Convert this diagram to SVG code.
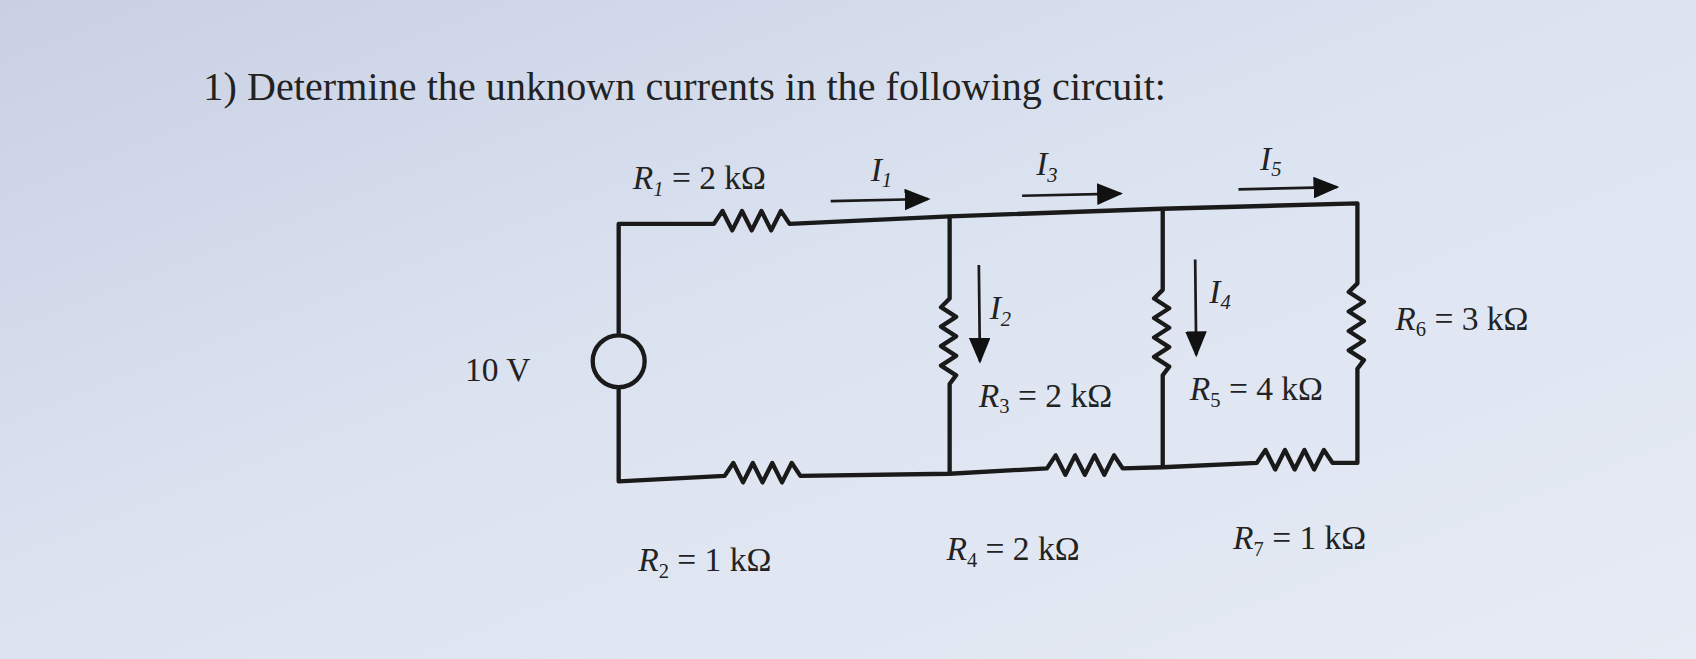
<svg xmlns="http://www.w3.org/2000/svg" width="1696" height="659" viewBox="0 0 1696 659">
<defs>
<linearGradient id="bg" x1="0" y1="0" x2="1" y2="1">
<stop offset="0" stop-color="#c9d0e4"/><stop offset="0.5" stop-color="#dde4f1"/><stop offset="1" stop-color="#e6ebf4"/>
</linearGradient>
<marker id="ah" viewBox="0 0 10 10" refX="9" refY="5" markerWidth="24" markerHeight="20" markerUnits="userSpaceOnUse" orient="auto" preserveAspectRatio="none">
<path d="M0,0 L10,5 L0,10 z" fill="#111"/>
</marker>
<style>
.w{fill:none;stroke:#1a1a1a;stroke-width:4;stroke-linejoin:round}
.a{fill:none;stroke:#1a1a1a;stroke-width:2.5}
.t{font-family:"Liberation Serif",serif;font-size:31px;fill:#222}
.i{font-style:italic}
</style>
</defs>
<rect width="1696" height="659" fill="url(#bg)"/>
<g transform="scale(1.0816)">
<text class="t" x="188" y="92" style="font-size:37px" textLength="890">1) Determine the unknown currents in the following circuit:</text>
<g id="connectors">
<path class="w" d="M572,310 V207 H660 l8,-12 l9,18 l9,-18 l9,18 l9,-18 l9,18 l9,-18 l8,12 L878,200 L1075,193 L1255,188 V262 l-8,8 l14,9 l-14,9 l14,9 l-14,9 l14,9 l-14,9 l14,9 l-6,8 V428 H1232 l-8,-12 l-9,18 l-9,-18 l-9,18 l-9,-18 l-9,18 l-9,-18 l-8,12 L1075,432 L1038,433 l-8,-12 l-9,18 l-9,-18 l-9,18 l-9,-18 l-9,18 l-9,-18 l-8,12 L878,438 L740,440 l-8,-12 l-9,18 l-9,-18 l-9,18 l-9,-18 l-9,18 l-9,-18 l-8,12 L572,445 V358"/>
<path class="w" d="M878,200 V276 l-8,8 l14,9 l-14,9 l14,9 l-14,9 l14,9 l-14,9 l14,9 l-6,8 V438"/>
<path class="w" d="M1075,193 V268 l-8,8 l14,9 l-14,9 l14,9 l-14,9 l14,9 l-14,9 l14,9 l-6,8 V432"/>
<line class="a" x1="768" y1="186" x2="858" y2="184" marker-end="url(#ah)"/>
<line class="a" x1="945" y1="181" x2="1036" y2="179" marker-end="url(#ah)"/>
<line class="a" x1="1145" y1="175" x2="1236" y2="173" marker-end="url(#ah)"/>
<line class="a" x1="905" y1="245" x2="906" y2="334" marker-end="url(#ah)"/>
<line class="a" x1="1105" y1="240" x2="1106" y2="328" marker-end="url(#ah)"/>
</g>
<g id="source"><circle cx="572" cy="334" r="24" fill="none" stroke="#1a1a1a" stroke-width="4"/><text class="t" x="430" y="352">10 V</text></g>
<g id="R1"><text class="t" x="585" y="175"><tspan class="i">R</tspan><tspan class="i" font-size="19" dy="6">1</tspan><tspan dy="-6"> = 2 kΩ</tspan></text></g>
<g id="R2"><text class="t" x="590" y="528"><tspan class="i">R</tspan><tspan font-size="19" dy="6">2</tspan><tspan dy="-6"> = 1 kΩ</tspan></text></g>
<g id="R3"><text class="t" x="905" y="376"><tspan class="i">R</tspan><tspan font-size="19" dy="6">3</tspan><tspan dy="-6"> = 2 kΩ</tspan></text></g>
<g id="R4"><text class="t" x="875" y="518"><tspan class="i">R</tspan><tspan font-size="19" dy="6">4</tspan><tspan dy="-6"> = 2 kΩ</tspan></text></g>
<g id="R5"><text class="t" x="1100" y="370"><tspan class="i">R</tspan><tspan font-size="19" dy="6">5</tspan><tspan dy="-6"> = 4 kΩ</tspan></text></g>
<g id="R6"><text class="t" x="1290" y="305"><tspan class="i">R</tspan><tspan font-size="19" dy="6">6</tspan><tspan dy="-6"> = 3 kΩ</tspan></text></g>
<g id="R7"><text class="t" x="1140" y="508"><tspan class="i">R</tspan><tspan font-size="19" dy="6">7</tspan><tspan dy="-6"> = 1 kΩ</tspan></text></g>
<g id="I1"><text class="t i" x="805" y="167">I<tspan font-size="19" dy="6">1</tspan></text></g>
<g id="I3"><text class="t i" x="958" y="162">I<tspan font-size="19" dy="6">3</tspan></text></g>
<g id="I5"><text class="t i" x="1165" y="157">I<tspan font-size="19" dy="6">5</tspan></text></g>
<g id="I2"><text class="t i" x="915" y="295">I<tspan font-size="19" dy="6">2</tspan></text></g>
<g id="I4"><text class="t i" x="1118" y="280">I<tspan font-size="19" dy="6">4</tspan></text></g>
</g>
</svg>
